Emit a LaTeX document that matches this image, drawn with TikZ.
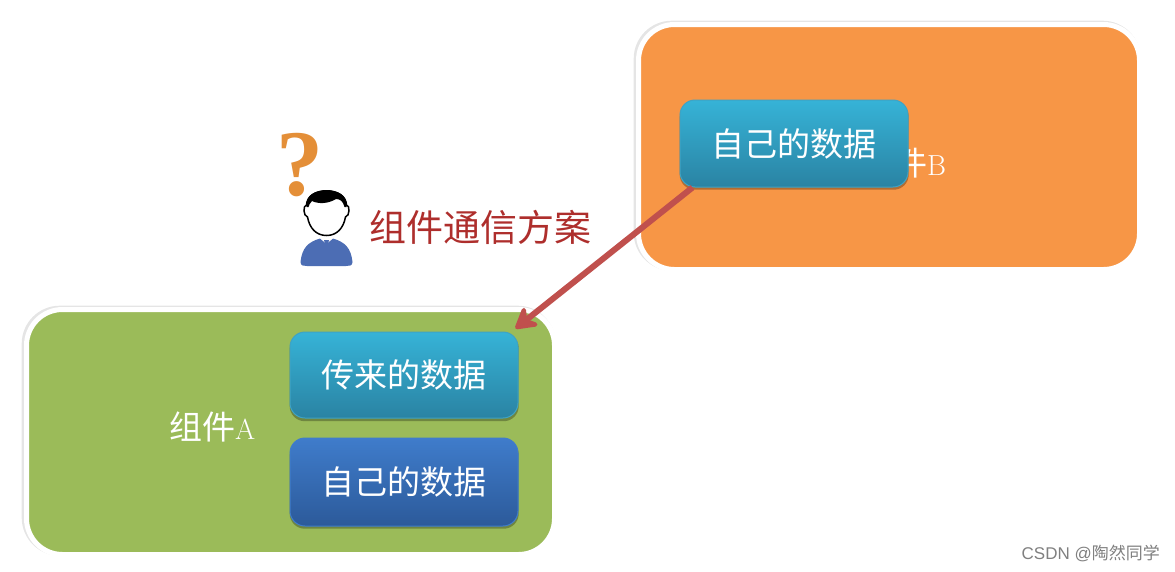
\documentclass[tikz,border=0pt]{standalone}
\usepackage{fontspec}
\usetikzlibrary{arrows.meta,calc}
\newfontfamily\cjk{Noto Sans CJK SC}
\newfontfamily\qfont{Liberation Serif}
\newfontfamily\wfont{Liberation Sans}
\definecolor{orangebox}{HTML}{F79646}
\definecolor{greenbox}{HTML}{9BBB59}
\definecolor{arrowred}{HTML}{C0504D}
\definecolor{titlered}{HTML}{AE2E2C}
\definecolor{qorange}{HTML}{E48F38}
\definecolor{suit}{HTML}{4C6DB4}
\definecolor{topcyan}{HTML}{36B3D7}
\definecolor{botcyan}{HTML}{2A83A3}
\definecolor{edgecyan}{HTML}{3FA3C4}
\definecolor{topblue}{HTML}{3F7CCB}
\definecolor{botblue}{HTML}{2C5A9A}
\tikzset{
  panel/.style={draw=white,line width=5pt,rounded corners=36pt,inner sep=0pt,anchor=north west},
  panelshadow/.style={fill=black,opacity=.10,rounded corners=38pt,inner sep=0pt,anchor=north west},
  cyanbox/.style={draw=edgecyan,line width=1pt,rounded corners=15pt,inner sep=0pt,anchor=north west,top color=topcyan,bottom color=botcyan,text=white,font=\cjk\fontsize{33}{33}\selectfont},
  bluebox/.style={draw=topblue,line width=1pt,rounded corners=15pt,inner sep=0pt,anchor=north west,top color=topblue,bottom color=botblue,text=white,font=\cjk\fontsize{33}{33}\selectfont},
  boxshadow/.style={fill=black,opacity=.28,rounded corners=15pt,inner sep=0pt,anchor=north west},
  link/.style={draw=arrowred,line width=6pt,-{Stealth[length=26pt,width=30pt,inset=9pt,round]},line cap=butt},
  panellabel/.style={text=white,inner sep=0pt,font=\fontsize{29}{29}\selectfont}
}
\begin{document}
\begin{tikzpicture}[x=1pt,y=-1pt]
\useasboundingbox (0,0) rectangle (1175,571);
\fill[white] (0,0) rectangle (1175,571);
% panel shadows
\node[panelshadow,minimum width=507pt,minimum height=250pt] (bshadow) at (633.5,20.5) {};
\node[panelshadow,minimum width=534pt,minimum height=250pt] (ashadow) at (21.5,305.5) {};
% panels
\node[panel,fill=orangebox,minimum width=501pt,minimum height=245pt] (compb) at (636,22) {};
\node[panel,fill=greenbox,minimum width=528pt,minimum height=245pt] (compa) at (24,307) {};
% panel labels
\node[panellabel,anchor=base west] (lblb) at (861,175) {{\cjk\fontsize{33}{33}\selectfont 组件}B};
\node[panellabel,anchor=base west] (lbla) at (169,439) {{\cjk\fontsize{33}{33}\selectfont 组件}A};
% data boxes
\node[boxshadow,minimum width=229pt,minimum height=88pt] (s1) at (679.5,101.5) {};
\node[boxshadow,minimum width=229pt,minimum height=88pt] (s2) at (289.5,333) {};
\node[boxshadow,minimum width=229pt,minimum height=89pt] (s3) at (289.5,439.5) {};
\node[cyanbox,minimum width=228pt,minimum height=87pt] (bdata) at (679.5,99.5) {自己的数据};
\node[cyanbox,minimum width=228pt,minimum height=86pt] (adata) at (289.5,331.5) {传来的数据};
\node[bluebox,minimum width=228pt,minimum height=88pt] (aown) at (289.5,437.5) {自己的数据};
% arrow
\coordinate (linkstart) at ($(bdata.south west)+(13,0)$);
\coordinate (linkend) at ($(adata.north east)+(-3,-3)$);
\draw[link] (linkstart) -- (linkend);
% title
\node[inner sep=0pt,anchor=center,text=titlered,font=\cjk\fontsize{37}{37}\selectfont] (title) at (480,227) {组件通信方案};
% question mark
\node[inner sep=0pt,text=qorange,font=\qfont\bfseries\fontsize{94}{94}\selectfont] (qmark) at (299.5,165) {?};
% person
\fill[suit] (300.5,262) .. controls (302,248) and (308,242) .. (320,238.5) -- (326.5,244) -- (333,238.5) .. controls (345,242) and (351,248) .. (352.5,262) .. controls (352.5,266) and (349,266) .. (346,266) -- (307,266) .. controls (304,266) and (300.5,266) .. (300.5,262) -- cycle;
\fill[white] (320,238) -- (326.5,243.5) -- (333,238) -- cycle;
\fill[suit] (324,240) -- (329,240) -- (328,244) -- (329.5,254) -- (326.5,258) -- (323.5,254) -- (325,244) -- cycle;
\draw[black,line width=1.5pt,fill=white] (306.5,205) .. controls (303,205) and (303,216) .. (307.5,217) .. controls (309.5,228) and (316,235.5) .. (326.5,235.5) .. controls (337,235.5) and (343.5,228) .. (345.5,217) .. controls (350,216) and (350,205) .. (346.5,205) .. controls (346,196) and (338,191) .. (326.5,191) .. controls (315,191) and (307,196) .. (306.5,205) -- cycle;
\fill[black] (306.5,207) .. controls (305,196) and (315,190) .. (326.5,190) .. controls (338,190) and (348,196) .. (346.5,207) -- (344.5,207) .. controls (343,201) and (340,199) .. (336,199) .. controls (328,204) and (318,204) .. (312,201) .. controls (310,203) and (309,205) .. (308.5,207) -- cycle;
% watermark
\node[inner sep=0pt,anchor=base east,text=black!50,font=\wfont\fontsize{17}{17}\selectfont] (mark) at (1160,559) {CSDN @{\cjk 陶然同学}};
\end{tikzpicture}
\end{document}
